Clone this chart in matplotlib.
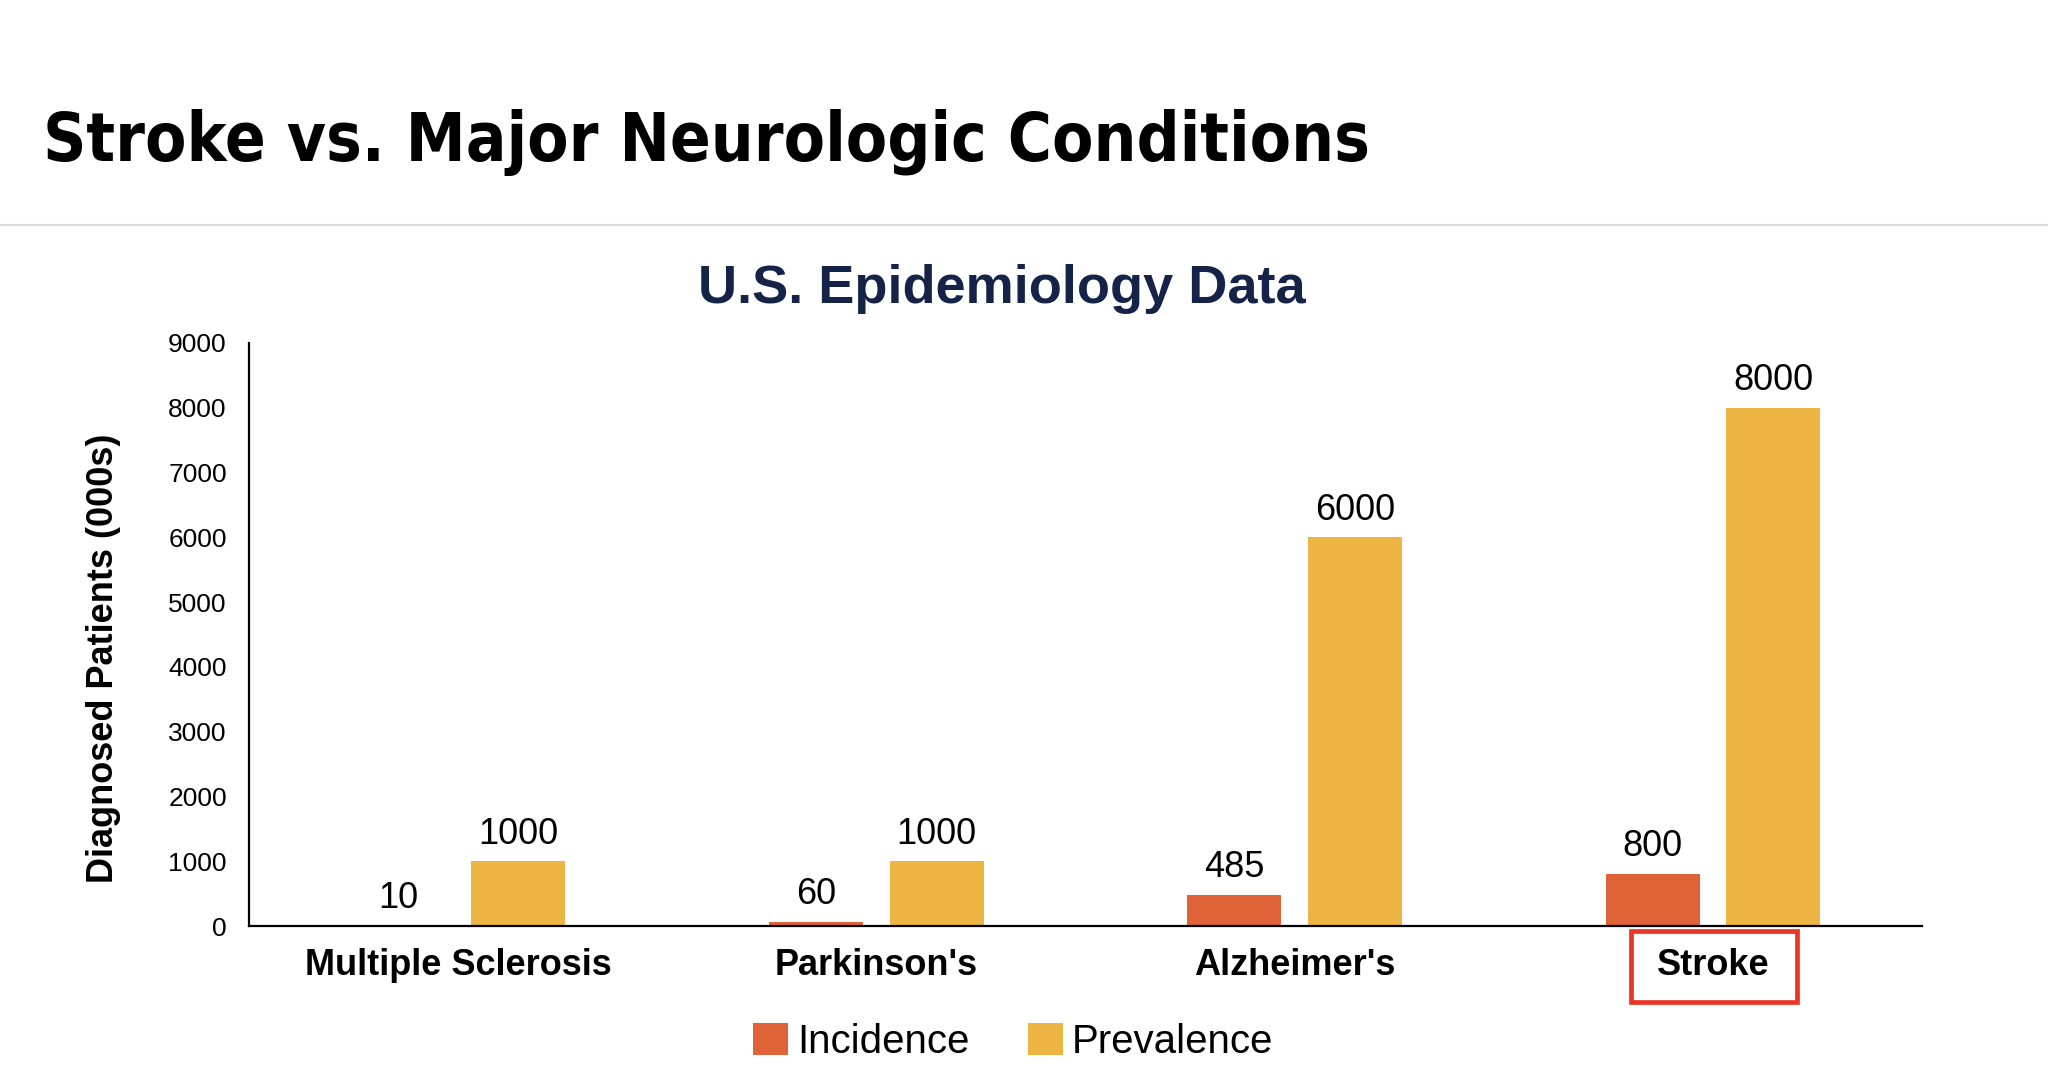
import matplotlib
matplotlib.use('Agg')
import matplotlib.pyplot as plt
from matplotlib import font_manager as fm
from matplotlib.patches import Rectangle, Patch
from matplotlib.lines import Line2D
import matplotlib.transforms as mtransforms
import numpy as np

# ---------------- data ----------------
categories = ["Multiple Sclerosis", "Parkinson's", "Alzheimer's", "Stroke"]
incidence = [10, 60, 485, 800]
prevalence = [1000, 1000, 6000, 8000]
series_names = ["Incidence", "Prevalence"]
yticks = [0, 1000, 2000, 3000, 4000, 5000, 6000, 7000, 8000, 9000]
page_title = "Stroke vs. Major Neurologic Conditions"
chart_title = "U.S. Epidemiology Data"
y_label = "Diagnosed Patients (000s)"
highlight = "Stroke"

# ---------------- style ----------------
inc_color = "#DE6337"
prev_color = "#EDB544"
navy = "#142347"
box_red = "#EA3627"

names = {f.name for f in fm.fontManager.ttflist}
body_font = "Liberation Sans" if "Liberation Sans" in names else "DejaVu Sans"
if "Liberation Sans Narrow" in names:
    title_font, title_stretch = "Liberation Sans Narrow", "normal"
else:
    title_font, title_stretch = "DejaVu Sans", "condensed"

plt.rcParams['font.family'] = [body_font, 'DejaVu Sans']

W, H = 2048, 1092
fig = plt.figure(figsize=(W / 100, H / 100), dpi=100)
fig.patch.set_facecolor('white')

# page title
t = fig.text(43 / W, 1 - 161 / H, page_title, family=title_font, stretch=title_stretch,
             weight='bold', fontsize=60, ha='left', va='baseline', color='black')
fig.canvas.draw()
bb = t.get_window_extent()
t.set_fontsize(60 * 1326 / bb.width)

# separator
fig.add_artist(Line2D([0, 1], [1 - 225 / H, 1 - 225 / H], transform=fig.transFigure,
                      color='#DCDCDC', lw=1.6))

# chart title
fig.text(1002 / W, 1 - 289 / H, chart_title, fontsize=39, weight='bold', color=navy,
         ha='center', va='center')

# axes
ax = fig.add_axes([249 / W, 1 - 926 / H, (1922 - 249) / W, (926 - 343) / H])
x = np.arange(len(categories))
off, bw = 0.144, 0.225
b1 = ax.bar(x - off, incidence, bw, color=inc_color, label=series_names[0])
b2 = ax.bar(x + off, prevalence, bw, color=prev_color, label=series_names[1])
ax.bar_label(b1, labels=[str(v) for v in incidence], padding=7, fontsize=26)
ax.bar_label(b2, labels=[str(v) for v in prevalence], padding=7, fontsize=26)

ax.set_xlim(-0.5, len(categories) - 0.5)
ax.set_ylim(0, 9000)
ax.set_yticks(yticks)
ax.set_yticklabels([str(v) for v in yticks], fontsize=19)
ax.set_xticks(x)
ax.set_xticklabels(categories, fontsize=26, weight='bold')
ax.tick_params(axis='y', length=0, pad=16)
ax.tick_params(axis='x', length=0, pad=16)
for s in ['top', 'right']:
    ax.spines[s].set_visible(False)
for s in ['left', 'bottom']:
    ax.spines[s].set_linewidth(1.6)
    ax.spines[s].set_color('black')

# y label
fig.text(104 / W, 1 - 658 / H, y_label, rotation=90, fontsize=26, weight='bold',
         ha='center', va='center')

# highlight box around the Stroke label
hi = categories.index(highlight)
trans = mtransforms.blended_transform_factory(ax.transData, ax.transAxes)
ax.add_patch(Rectangle((hi - 0.196, -0.130), 0.397, 0.1214, transform=trans,
                       fill=False, edgecolor=box_red, lw=3.4, clip_on=False))

# legend
handles = [Patch(facecolor=inc_color, label=series_names[0]),
           Patch(facecolor=prev_color, label=series_names[1])]
fig.legend(handles=handles, loc='center', bbox_to_anchor=(1013 / W, 1 - 1042 / H), ncol=2,
           frameon=False, fontsize=29, handlelength=0.87, handleheight=0.82,
           handletextpad=0.22, columnspacing=1.45)

fig.savefig('out.png', dpi=100, facecolor='white')
